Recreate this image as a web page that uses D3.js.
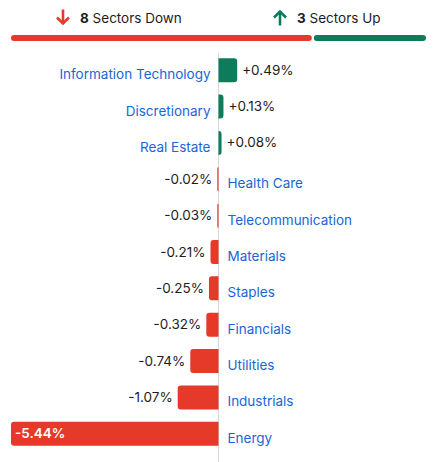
<!DOCTYPE html>
<html><head><meta charset="utf-8">
<script src="https://cdn.jsdelivr.net/npm/d3@7"></script>
<style>body{margin:0;background:#fff;font-family:Inter,"Noto Sans",sans-serif;}</style>
</head><body><svg id="c" width="435" height="462"></svg>
<script>
const categories = ["Information Technology","Discretionary","Real Estate","Health Care","Telecommunication","Materials","Staples","Financials","Utilities","Industrials","Energy"];
const values = [0.49,0.13,0.08,-0.02,-0.03,-0.21,-0.25,-0.32,-0.74,-1.07,-5.44];
const valueLabels = ["+0.49%","+0.13%","+0.08%","-0.02%","-0.03%","-0.21%","-0.25%","-0.32%","-0.74%","-1.07%","-5.44%"];
const downCount = 8, upCount = 3;

const RED = "#e5392a", GREEN = "#0e7c5a", BLUE = "#1a66d6", TXT = "#1d1d1f";
const FS = 13.5;
const svg = d3.select("#c");

// header
const hdrY = 23;
function arrow(g, x, up, color){
  const a = g.append("g").attr("transform",`translate(${x},${hdrY-5.5})`).attr("stroke",color).attr("stroke-width",2.6).attr("fill","none").attr("stroke-linejoin","miter");
  if(up){ a.append("line").attr("x1",0).attr("y1",-6).attr("x2",0).attr("y2",8);
          a.append("path").attr("d","M-6,0 L0,-6 L6,0"); }
  else { a.append("line").attr("x1",0).attr("y1",-8).attr("x2",0).attr("y2",6);
         a.append("path").attr("d","M-6,0 L0,6 L6,0"); }
}
arrow(svg, 63, false, RED);
arrow(svg, 280, true, GREEN);
const t1 = svg.append("text").attr("x",80).attr("y",hdrY).attr("font-size",FS).attr("fill",TXT);
t1.append("tspan").attr("font-weight",700).text(downCount);
t1.append("tspan").text(" Sectors Down");
const t2 = svg.append("text").attr("x",297).attr("y",hdrY).attr("font-size",FS).attr("fill",TXT);
t2.append("tspan").attr("font-weight",700).text(upCount);
t2.append("tspan").text(" Sectors Up");

const px = d3.scaleLinear().domain([0, downCount+upCount]).range([11, 426]);
svg.append("rect").attr("x",px(0)).attr("y",35).attr("width",px(downCount)-px(0)-1).attr("height",6).attr("rx",3).attr("fill",RED);
svg.append("rect").attr("x",px(downCount)+1).attr("y",35).attr("width",px(downCount+upCount)-px(downCount)-1).attr("height",6).attr("rx",3).attr("fill",GREEN);

// chart
const x = d3.scaleLinear().domain([d3.min(values), 0]).range([11, 218.5]);
const y = d3.scaleBand().domain(categories).range([52, 452]).paddingInner(0.34).paddingOuter(0.17);
const x0 = x(0);

svg.append("line").attr("x1",x0).attr("x2",x0).attr("y1",53).attr("y2",462).attr("stroke","#d6d6d6").attr("stroke-width",1);

const barW = v => Math.max(Math.abs(x(v)-x0), 1.2);
const inside = v => barW(v) > 150;

function barPath(v, yTop, h){
  const w = barW(v);
  const rr = Math.min(3, w);
  const s = v >= 0 ? 1 : -1;
  const x1 = x0 + s*w;
  return `M${x0},${yTop} H${x1-s*rr} Q${x1},${yTop} ${x1},${yTop+rr} V${yTop+h-rr} Q${x1},${yTop+h} ${x1-s*rr},${yTop+h} H${x0} Z`;
}
const rows = svg.append("g").selectAll("g").data(categories).join("g");
rows.append("path")
  .attr("d",(c,i)=>barPath(values[i], y(c), y.bandwidth()))
  .attr("fill",(c,i)=>values[i]>=0?GREEN:RED);

rows.append("text")
  .attr("x",(c,i)=> values[i]>=0 ? x0-8 : x0+9)
  .attr("y",c=>y(c)+y.bandwidth()/2+9)
  .attr("text-anchor",(c,i)=> values[i]>=0 ? "end" : "start")
  .attr("font-size",FS).attr("fill",BLUE)
  .text(c=>c);

rows.append("text")
  .attr("x",(c,i)=>{ const v=values[i];
     if(v>=0) return x0+barW(v)+5; if(inside(v)) return x(v)+4; return x0-barW(v)-5; })
  .attr("y",c=>y(c)+y.bandwidth()/2+4.5)
  .attr("text-anchor",(c,i)=> values[i]>=0||inside(values[i]) ? "start":"end")
  .attr("font-size",FS)
  .attr("font-weight",(c,i)=>inside(values[i])?600:400)
  .attr("fill",(c,i)=>inside(values[i])?"#fff":TXT)
  .text((c,i)=>valueLabels[i]);
</script></body></html>
